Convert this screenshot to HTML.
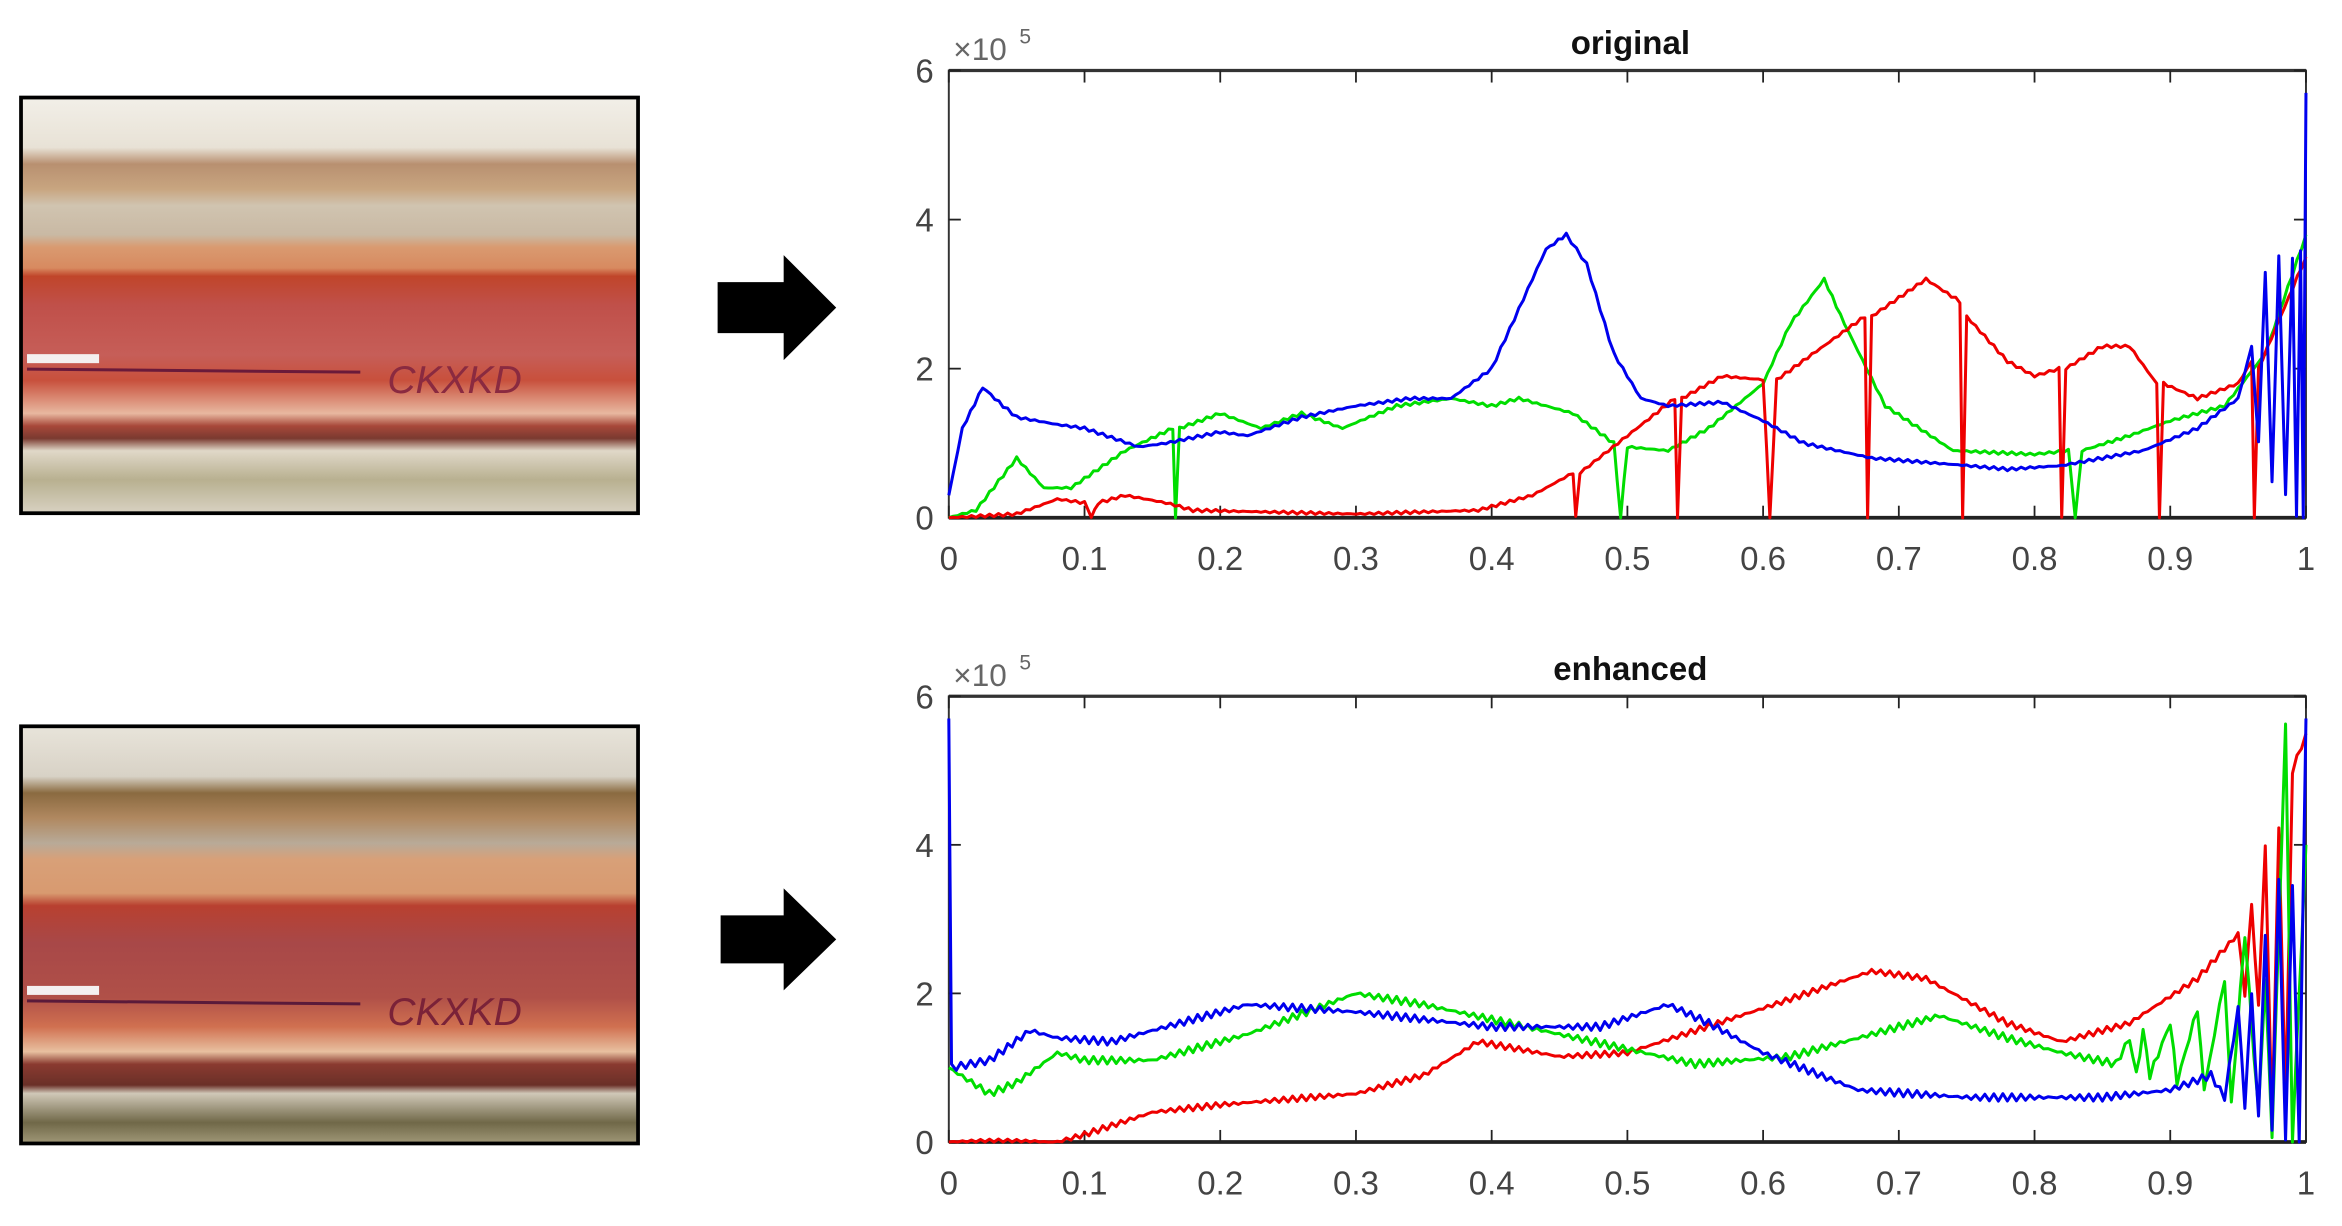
<!DOCTYPE html>
<html><head><meta charset="utf-8"><style>
html,body{margin:0;padding:0;background:#fff;}
svg{display:block;}
text{font-family:"Liberation Sans",sans-serif;}
</style></head><body>
<svg id="s" width="2342" height="1226" viewBox="0 0 1560 817" preserveAspectRatio="none" xmlns="http://www.w3.org/2000/svg">
<defs>
<linearGradient id="p1" x1="0" y1="0" x2="0" y2="1">
<stop offset="0" stop-color="#f2efe8"/><stop offset="0.12" stop-color="#e8e2d6"/>
<stop offset="0.16" stop-color="#b89070"/><stop offset="0.22" stop-color="#c8a580"/>
<stop offset="0.26" stop-color="#d0c4b0"/><stop offset="0.33" stop-color="#c9b9a4"/>
<stop offset="0.36" stop-color="#d99a70"/><stop offset="0.41" stop-color="#d88a60"/>
<stop offset="0.43" stop-color="#c0452a"/><stop offset="0.5" stop-color="#c0504a"/>
<stop offset="0.62" stop-color="#c65e58"/><stop offset="0.68" stop-color="#c8503c"/>
<stop offset="0.76" stop-color="#e8b8a0"/><stop offset="0.79" stop-color="#a8483a"/>
<stop offset="0.82" stop-color="#7a3a30"/><stop offset="0.85" stop-color="#e0d8c8"/>
<stop offset="0.92" stop-color="#b8b090"/><stop offset="1" stop-color="#d8d2c2"/>
</linearGradient>
<linearGradient id="p2" x1="0" y1="0" x2="0" y2="1">
<stop offset="0" stop-color="#e8e4da"/><stop offset="0.12" stop-color="#d8d2c6"/>
<stop offset="0.16" stop-color="#8a6a40"/><stop offset="0.22" stop-color="#b08860"/>
<stop offset="0.28" stop-color="#b8aa98"/><stop offset="0.32" stop-color="#d8a078"/>
<stop offset="0.4" stop-color="#d89a70"/><stop offset="0.43" stop-color="#b84030"/>
<stop offset="0.52" stop-color="#a84848"/><stop offset="0.65" stop-color="#b05048"/>
<stop offset="0.72" stop-color="#d07050"/><stop offset="0.78" stop-color="#e8c0a0"/>
<stop offset="0.81" stop-color="#8a3a30"/><stop offset="0.86" stop-color="#6a3028"/>
<stop offset="0.88" stop-color="#d0c8b8"/><stop offset="0.95" stop-color="#706848"/><stop offset="1" stop-color="#a09878"/>
</linearGradient>
</defs>
<rect x="14" y="65" width="411" height="277" fill="url(#p1)" stroke="#000" stroke-width="2.5"/>
<line x1="18" y1="246" x2="240" y2="248" stroke="#6a1a3a" stroke-width="2"/>
<rect x="18" y="236" width="48" height="6" fill="#f4f0f0"/>
<text x="258" y="262" font-size="26" fill="#8a2a40" font-style="italic">CKXKD</text>
<rect x="14" y="484" width="411" height="278" fill="url(#p2)" stroke="#000" stroke-width="2.5"/>
<line x1="18" y1="667" x2="240" y2="669" stroke="#5a1a3a" stroke-width="2"/>
<rect x="18" y="657" width="48" height="6" fill="#f4f0f0"/>
<text x="258" y="683" font-size="26" fill="#7a2238" font-style="italic">CKXKD</text>
<polygon points="478,188 522,188 522,170 557,205 522,240 522,222 478,222" fill="#000"/>
<polygon points="480,610 522,610 522,592 557,626 522,660 522,642 480,642" fill="#000"/>
<g id="plots"></g>
</svg>
<script>
const NS="http://www.w3.org/2000/svg";
const g=document.getElementById('plots');
function el(t,a,txt){const e=document.createElementNS(NS,t);for(const k in a)e.setAttribute(k,a[k]);if(txt!==undefined)e.textContent=txt;g.appendChild(e);return e;}
const X0=632,X1=1536;
function axes(y0,y6,title){
  el('rect',{x:X0,y:y6,width:X1-X0,height:y0-y6,fill:'none',stroke:'#333',"stroke-width":1.3});
  el('line',{x1:X0,y1:y6,x2:X1,y2:y6,stroke:'#333',"stroke-width":2.2});
  el('line',{x1:X0,y1:y0,x2:X1,y2:y0,stroke:'#222',"stroke-width":2.5});
  for(let i=0;i<=10;i++){const x=X0+(X1-X0)*i/10;
    el('line',{x1:x,y1:y0,x2:x,y2:y0-8,stroke:'#222',"stroke-width":1.2});
    el('line',{x1:x,y1:y6,x2:x,y2:y6+8,stroke:'#222',"stroke-width":1.2});
    el('text',{x:x,y:y0+35,"font-size":22,fill:'#444',"text-anchor":"middle"},i==0?'0':i==10?'1':'0.'+i);}
  for(let k=0;k<=3;k++){const y=y0-(y0-y6)*k/3;
    el('line',{x1:X0,y1:y,x2:X0+8,y2:y,stroke:'#222',"stroke-width":1.2});
    el('line',{x1:X1,y1:y,x2:X1-8,y2:y,stroke:'#222',"stroke-width":1.2});
    el('text',{x:X0-10,y:y+8,"font-size":22,fill:'#444',"text-anchor":"end"},String(k*2));}
  el('text',{x:635,y:y6-7,"font-size":21,fill:'#666'},'×10');
  el('text',{x:679,y:y6-18,"font-size":14,fill:'#666'},'5');
  el('text',{x:1086,y:y6-11,"font-size":22,"font-weight":"bold",fill:'#111',"text-anchor":"middle"},title);
}
function series(pts,y0,y6,col,noise){
  const sc=(y0-y6)/6;let d='';
  for(let i=0;i<pts.length-1;i++){
    const [a,va]=pts[i],[b,vb]=pts[i+1];
    const n=Math.max(1,Math.round((b-a)*300));
    for(let j=0;j<n;j++){const t=j/n;const v=va+(vb-va)*t;const x=a+(b-a)*t;
      const nz=noise?(Math.sin(x*900)*noise):0;
      const X=X0+(X1-X0)*x,Y=Math.min(y0,y0-(v+nz)*sc);
      d+=(d?'L':'M')+X.toFixed(1)+','+Y.toFixed(1);}
  }
  const l=pts[pts.length-1];d+='L'+(X0+(X1-X0)*l[0]).toFixed(1)+','+(y0-l[1]*sc).toFixed(1);
  el('path',{d:d,fill:'none',stroke:col,"stroke-width":2,"stroke-linejoin":"round"});
}
axes(345,47,'original');
axes(761,464,'enhanced');
series([[0,0],[.02,.1],[.05,.8],[.07,.4],[.09,.4],[.13,.9],[.165,1.2],[.167,0],[.17,1.2],[.2,1.4],[.23,1.2],[.26,1.4],[.29,1.2],[.33,1.5],[.37,1.6],[.4,1.5],[.42,1.6],[.46,1.4],[.49,1.0],[.495,0],[.5,.95],[.53,.9],[.56,1.2],[.6,1.8],[.62,2.6],[.645,3.2],[.66,2.6],[.69,1.5],[.74,.9],[.8,.85],[.825,.9],[.83,0],[.835,.9],[.87,1.1],[.9,1.3],[.94,1.5],[.97,2.2],[1,3.8]],345,47,'#00dd00',0.02);
series([[0,0],[.05,.05],[.08,.25],[.1,.2],[.105,0],[.11,.2],[.13,.3],[.16,.2],[.18,.1],[.3,.05],[.39,.1],[.43,.3],[.46,.6],[.462,0],[.465,.6],[.5,1.1],[.535,1.6],[.537,0],[.54,1.6],[.57,1.9],[.6,1.85],[.605,0],[.61,1.85],[.675,2.7],[.677,0],[.68,2.7],[.72,3.2],[.745,2.9],[.747,0],[.75,2.7],[.78,2.1],[.8,1.9],[.818,2.0],[.82,0],[.823,2.0],[.85,2.3],[.87,2.3],[.89,1.8],[.892,0],[.895,1.8],[.92,1.6],[.95,1.8],[.96,2.1],[.962,0],[.965,2.0],[1,3.5]],345,47,'#ee0000',0.02);
series([[0,.3],[.01,1.2],[.025,1.75],[.04,1.5],[.05,1.35],[.08,1.25],[.1,1.2],[.14,.95],[.16,1.0],[.2,1.15],[.22,1.1],[.26,1.35],[.3,1.5],[.34,1.6],[.37,1.6],[.4,2.0],[.42,2.8],[.44,3.6],[.455,3.8],[.47,3.4],[.49,2.2],[.51,1.6],[.53,1.5],[.57,1.55],[.6,1.3],[.63,1.0],[.68,.8],[.75,.7],[.78,.65],[.82,.7],[.88,.9],[.92,1.2],[.95,1.6],[.96,2.3],[.965,1.0],[.97,3.3],[.975,.5],[.98,3.5],[.985,.3],[.99,3.5],[.993,0],[.996,3.6],[.998,0],[1,5.7]],345,47,'#0000ee',0.02);
series([[0,0],[.08,0],[.1,.1],[.15,.4],[.2,.5],[.3,.65],[.35,.9],[.39,1.35],[.45,1.15],[.5,1.2],[.6,1.8],[.68,2.3],[.72,2.2],[.78,1.6],[.82,1.35],[.87,1.6],[.92,2.2],[.95,2.8],[.955,2.0],[.96,3.2],[.965,1.8],[.97,4.0],[.975,.3],[.98,4.2],[.985,.5],[.99,5.0],[1,5.5]],761,464,'#ee0000',0.04);
series([[0,1.0],[.03,.65],[.05,.8],[.08,1.2],[.1,1.1],[.15,1.1],[.22,1.45],[.3,2.0],[.35,1.85],[.45,1.45],[.55,1.05],[.62,1.15],[.68,1.45],[.73,1.7],[.78,1.4],[.82,1.2],[.86,1.05],[.87,1.4],[.875,.9],[.88,1.5],[.885,.9],[.9,1.6],[.905,.8],[.92,1.8],[.925,.7],[.94,2.2],[.945,.5],[.955,2.8],[.965,.4],[.97,2.2],[.975,.1],[.985,5.6],[.99,0],[1,4]],761,464,'#00dd00',0.05);
series([[0,5.7],[.002,1.0],[.03,1.1],[.06,1.5],[.08,1.4],[.12,1.35],[.16,1.55],[.22,1.85],[.3,1.75],[.4,1.55],[.48,1.55],[.53,1.85],[.56,1.6],[.6,1.2],[.67,.7],[.75,.6],[.85,.6],[.9,.7],[.93,.9],[.94,.6],[.95,1.8],[.955,.5],[.96,2.0],[.965,.3],[.97,2.8],[.975,.2],[.98,3.5],[.985,0],[.99,3.5],[.995,0],[1,5.7]],761,464,'#0000ee',0.05);
</script>
</body></html>
